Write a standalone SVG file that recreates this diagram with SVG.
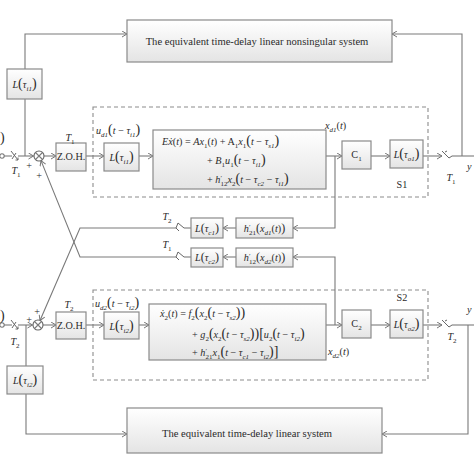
<svg xmlns="http://www.w3.org/2000/svg" width="474" height="474" viewBox="0 0 474 474">
<defs>
<linearGradient id="g" x1="0" y1="0" x2="0" y2="1"><stop offset="0" stop-color="#ffffff"/><stop offset="1" stop-color="#e4e4e4"/></linearGradient>
<marker id="a" markerWidth="7" markerHeight="7" refX="6" refY="3.5" orient="auto" markerUnits="userSpaceOnUse"><path d="M1,0.5 L6,3.5 L1,6.5" fill="none" stroke="#777" stroke-width="1"/></marker>
</defs>
<style>
.b{fill:url(#g);stroke:#8a8a8a;stroke-width:1.2}
.c{fill:none;stroke:#7a7a7a;stroke-width:1.1}
.ca{fill:none;stroke:#7a7a7a;stroke-width:1.1;marker-end:url(#a)}
.d{fill:none;stroke:#8c8c8c;stroke-width:1.1;stroke-dasharray:4 3}
text{font-family:"Liberation Serif","Times New Roman",serif;fill:#2a2a2a;font-size:10.2px}
.big{font-size:10.6px}
.m{text-anchor:middle}
.i{font-style:italic}
.s{font-size:7px}
.p{font-size:14px}
.q{font-size:12px}
.sw{fill:none;stroke:#666;stroke-width:1}
</style>
<rect width="474" height="474" fill="#fff"/>

<g id="S1"><rect class="d" x="93" y="107" width="335" height="90"/><text class="m" x="402" y="188">S1</text></g>
<g id="S2"><rect class="d" x="93" y="290" width="335" height="90"/><text class="m" x="402" y="301">S2</text></g>

<g id="connectors">
<circle class="c" cx="2" cy="156" r="2.2"/>
<path class="c" d="M4,156 H12"/>
<path class="ca" d="M18,156 H33.5"/>
<path class="ca" d="M44,156 H56"/>
<path class="ca" d="M86,156 H104"/>
<path class="ca" d="M139,156 H153"/>
<path class="ca" d="M326,156 H342"/>
<path class="ca" d="M335,156 V228 H293"/>
<path class="ca" d="M371,156 H390"/>
<path class="ca" d="M423,156 H442"/>
<path class="c" d="M452,156 H474"/>
<path class="c" d="M25,156 V99"/>
<path class="ca" d="M25,69 V34 H127"/>
<path class="ca" d="M462,156 V34 H392"/>
<circle class="c" cx="2" cy="325" r="2.2"/>
<path class="c" d="M4,325 H12"/>
<path class="ca" d="M18,325 H32.5"/>
<path class="c" d="M26,325 V366"/>
<path class="ca" d="M43,325 H56"/>
<path class="ca" d="M86,325 H104"/>
<path class="ca" d="M139,325 H149"/>
<path class="ca" d="M326,325 H342"/>
<path class="ca" d="M335,325 V257 H293"/>
<path class="ca" d="M371,325 H390"/>
<path class="ca" d="M423,325 H442"/>
<path class="c" d="M452,325 H474"/>
<path class="ca" d="M468,325 V434 H382"/>
<path class="ca" d="M26,394 V434 H127"/>
<path class="ca" d="M236,228 H223"/>
<path class="c" d="M191,228 H184"/>
<path class="ca" d="M176,228 H80 L40,320.5"/>
<path class="ca" d="M236,257 H223"/>
<path class="c" d="M191,257 H184"/>
<path class="ca" d="M176,257 H80 L41,160.6"/>
<path class="sw" d="M11,151 L18,160 M12,159 L16,153 M15.5,160 L18,160 L18,157.5"/>
<path class="sw" d="M11,320 L18,329 M12,328 L16,322 M15.5,329 L18,329 L18,326.5"/>
<path class="sw" d="M442,151 L449,158 M449,158 L452,156 M445,152 L447,151"/>
<path class="sw" d="M442,320 L449,327 M449,327 L452,325 M445,321 L447,320"/>
<path class="sw" d="M184,228 L178,223 M178,223 L176,228 M179,231 L176,228"/>
<path class="sw" d="M184,257 L178,252 M178,252 L176,257 M179,260 L176,257"/>
</g>

<g id="top-system"><rect class="b" x="127" y="20" width="265" height="42"/><text class="m big" x="257" y="45">The equivalent time-delay linear nonsingular system</text></g>
<g id="bottom-system"><rect class="b" x="127" y="408" width="255" height="45"/><text class="m big" x="247" y="437">The equivalent time-delay linear system</text></g>

<g id="Li1"><rect class="b" x="7" y="69" width="35" height="30"/><text class="m" x="24.5" y="88"><tspan class="i">L</tspan><tspan class="p">(</tspan><tspan class="i">τ</tspan><tspan class="s i" dy="2.5">i1</tspan><tspan class="p" dy="-2.5">)</tspan></text></g>
<g id="Li2"><rect class="b" x="7" y="366" width="36" height="28"/><text class="m" x="25" y="384"><tspan class="i">L</tspan><tspan class="p">(</tspan><tspan class="i">τ</tspan><tspan class="s i" dy="2.5">i2</tspan><tspan class="p" dy="-2.5">)</tspan></text></g>

<g id="sum1"><circle cx="39" cy="156" r="5" fill="#fff" stroke="#666" stroke-width="1.1"/><path class="c" d="M35.5,152.5 L42.5,159.5 M42.5,152.5 L35.5,159.5"/><text class="m" x="29" y="169">+</text><text class="m" x="39" y="179">+</text></g>
<g id="sum2"><circle cx="38" cy="325" r="5" fill="#fff" stroke="#666" stroke-width="1.1"/><path class="c" d="M34.5,321.5 L41.5,328.5 M41.5,321.5 L34.5,328.5"/><text class="m" x="29" y="323">+</text><text class="m" x="37" y="315">+</text></g>

<g id="labels-left">
<text x="0" y="142" class="p">)</text>
<text x="0" y="320" class="p">)</text>
<text class="m" x="16" y="174"><tspan class="i">T</tspan><tspan class="s" dy="2.5">1</tspan></text>
<text class="m" x="15" y="345"><tspan class="i">T</tspan><tspan class="s" dy="2.5">2</tspan></text>
</g>

<g id="zoh1"><rect class="b" x="56" y="143" width="30" height="28"/><text class="m" x="71" y="160">Z.O.H.</text><text class="m" x="70" y="141"><tspan class="i">T</tspan><tspan class="s" dy="2.5">1</tspan></text></g>
<g id="zoh2"><rect class="b" x="56" y="312" width="30" height="27"/><text class="m" x="71" y="329">Z.O.H.</text><text class="m" x="69" y="308"><tspan class="i">T</tspan><tspan class="s" dy="2.5">2</tspan></text></g>

<g id="Lti1"><rect class="b" x="104" y="143" width="35" height="28"/><text class="m" x="121.5" y="161"><tspan class="i">L</tspan><tspan class="p">(</tspan><tspan class="i">τ</tspan><tspan class="s i" dy="2.5">i1</tspan><tspan class="p" dy="-2.5">)</tspan></text>
<text x="96" y="134"><tspan class="i">u</tspan><tspan class="s i" dy="2.5">d1</tspan><tspan class="p" dy="-2.5">(</tspan><tspan class="i">t</tspan> − <tspan class="i">τ</tspan><tspan class="s i" dy="2.5">i1</tspan><tspan class="p" dy="-2.5">)</tspan></text></g>
<g id="Lti2"><rect class="b" x="104" y="312" width="35" height="27"/><text class="m" x="121.5" y="330"><tspan class="i">L</tspan><tspan class="p">(</tspan><tspan class="i">τ</tspan><tspan class="s i" dy="2.5">i2</tspan><tspan class="p" dy="-2.5">)</tspan></text>
<text x="95" y="307"><tspan class="i">u</tspan><tspan class="s i" dy="2.5">d2</tspan><tspan class="p" dy="-2.5">(</tspan><tspan class="i">t</tspan> − <tspan class="i">τ</tspan><tspan class="s i" dy="2.5">i2</tspan><tspan class="p" dy="-2.5">)</tspan></text></g>

<g id="eq1"><rect class="b" x="153" y="130" width="173" height="59"/>
<text x="162" y="145"><tspan class="i">Eẋ</tspan>(<tspan class="i">t</tspan>) = <tspan class="i">Ax</tspan><tspan class="s" dy="2.5">1</tspan><tspan dy="-2.5">(</tspan><tspan class="i">t</tspan>) + A<tspan class="s" dy="2.5">1</tspan><tspan class="i" dy="-2.5">x</tspan><tspan class="s" dy="2.5">1</tspan><tspan class="p" dy="-2.5">(</tspan><tspan class="i">t</tspan> − <tspan class="i">τ</tspan><tspan class="s i" dy="2.5">s1</tspan><tspan class="p" dy="-2.5">)</tspan></text>
<text x="207" y="164">+ <tspan class="i">B</tspan><tspan class="s" dy="2.5">1</tspan><tspan class="i" dy="-2.5">u</tspan><tspan class="s" dy="2.5">1</tspan><tspan class="p" dy="-2.5">(</tspan><tspan class="i">t</tspan> − <tspan class="i">τ</tspan><tspan class="s i" dy="2.5">i1</tspan><tspan class="p" dy="-2.5">)</tspan></text>
<text x="207" y="183">+ <tspan class="i">h</tspan><tspan class="s" dy="-3.5">′</tspan><tspan class="s" dx="-1.5" dy="6">12</tspan><tspan class="i" dy="-2.5">x</tspan><tspan class="s" dy="2.5">2</tspan><tspan class="p" dy="-2.5">(</tspan><tspan class="i">t</tspan> − <tspan class="i">τ</tspan><tspan class="s i" dy="2.5">c2</tspan><tspan dy="-2.5"> − </tspan><tspan class="i">τ</tspan><tspan class="s i" dy="2.5">i1</tspan><tspan class="p" dy="-2.5">)</tspan></text>
<text x="325" y="129"><tspan class="i">x</tspan><tspan class="s i" dy="2.5">d1</tspan><tspan dy="-2.5">(</tspan><tspan class="i">t</tspan>)</text>
</g>

<g id="eq2"><rect class="b" x="149" y="304" width="177" height="56"/>
<text x="160" y="317"><tspan class="i">ẋ</tspan><tspan class="s" dy="2.5">2</tspan><tspan dy="-2.5">(</tspan><tspan class="i">t</tspan>) = <tspan class="i">f</tspan><tspan class="s" dy="2.5">2</tspan><tspan class="p" dy="-2.5">(</tspan><tspan class="i">x</tspan><tspan class="s" dy="2.5">2</tspan><tspan class="p" dy="-2.5">(</tspan><tspan class="i">t</tspan> − <tspan class="i">τ</tspan><tspan class="s i" dy="2.5">s2</tspan><tspan class="p" dy="-2.5">))</tspan></text>
<text x="192" y="338">+ <tspan class="i">g</tspan><tspan class="s" dy="2.5">2</tspan><tspan class="p" dy="-2.5">(</tspan><tspan class="i">x</tspan><tspan class="s" dy="2.5">2</tspan><tspan class="p" dy="-2.5">(</tspan><tspan class="i">t</tspan> − <tspan class="i">τ</tspan><tspan class="s i" dy="2.5">s2</tspan><tspan class="p" dy="-2.5">))[</tspan><tspan class="i">u</tspan><tspan class="s" dy="2.5">2</tspan><tspan class="p" dy="-2.5">(</tspan><tspan class="i">t</tspan> − <tspan class="i">τ</tspan><tspan class="s i" dy="2.5">i2</tspan><tspan class="p" dy="-2.5">)</tspan></text>
<text x="192" y="356">+ <tspan class="i">h</tspan><tspan class="s" dy="-3.5">′</tspan><tspan class="s" dx="-1.5" dy="6">21</tspan><tspan class="i" dy="-2.5">x</tspan><tspan class="s" dy="2.5">1</tspan><tspan class="p" dy="-2.5">(</tspan><tspan class="i">t</tspan> − <tspan class="i">τ</tspan><tspan class="s i" dy="2.5">c1</tspan><tspan dy="-2.5"> − </tspan><tspan class="i">τ</tspan><tspan class="s i" dy="2.5">i2</tspan><tspan class="p" dy="-2.5">)]</tspan></text>
<text x="328" y="355"><tspan class="i">x</tspan><tspan class="s i" dy="2.5">d2</tspan><tspan dy="-2.5">(</tspan><tspan class="i">t</tspan>)</text>
</g>

<g id="C1"><rect class="b" x="342" y="141" width="29" height="28"/><text class="m" x="356.5" y="158">C<tspan class="s" dy="2.5">1</tspan></text></g>
<g id="C2"><rect class="b" x="342" y="310" width="29" height="28"/><text class="m" x="356.5" y="327">C<tspan class="s" dy="2.5">2</tspan></text></g>

<g id="Lo1"><rect class="b" x="390" y="140" width="33" height="28"/><text class="m" x="406.5" y="158"><tspan class="i">L</tspan><tspan class="p">(</tspan><tspan class="i">τ</tspan><tspan class="s i" dy="2.5">o1</tspan><tspan class="p" dy="-2.5">)</tspan></text></g>
<g id="Lo2"><rect class="b" x="390" y="310" width="33" height="28"/><text class="m" x="406.5" y="328"><tspan class="i">L</tspan><tspan class="p">(</tspan><tspan class="i">τ</tspan><tspan class="s i" dy="2.5">o2</tspan><tspan class="p" dy="-2.5">)</tspan></text></g>

<g id="labels-right">
<text class="m" x="451" y="181"><tspan class="i">T</tspan><tspan class="s" dy="2.5">1</tspan></text>
<text x="467" y="170" class="i">y</text>
<text class="m" x="452" y="340"><tspan class="i">T</tspan><tspan class="s" dy="2.5">2</tspan></text>
<text x="467" y="313" class="i">y</text>
</g>

<g id="h21"><rect class="b" x="236" y="218" width="57" height="20"/><text class="m" x="264.5" y="232"><tspan class="i">h</tspan><tspan class="s" dy="-3.5">′</tspan><tspan class="s" dx="-1.5" dy="6">21</tspan><tspan class="q" dy="-2.5">(</tspan><tspan class="i">x</tspan><tspan class="s i" dy="2.5">d1</tspan><tspan dy="-2.5">(</tspan><tspan class="i">t</tspan>)<tspan class="q">)</tspan></text></g>
<g id="h12"><rect class="b" x="236" y="248" width="57" height="19"/><text class="m" x="264.5" y="261"><tspan class="i">h</tspan><tspan class="s" dy="-3.5">′</tspan><tspan class="s" dx="-1.5" dy="6">12</tspan><tspan class="q" dy="-2.5">(</tspan><tspan class="i">x</tspan><tspan class="s i" dy="2.5">d2</tspan><tspan dy="-2.5">(</tspan><tspan class="i">t</tspan>)<tspan class="q">)</tspan></text></g>
<g id="Lc1"><rect class="b" x="191" y="218" width="32" height="20"/><text class="m" x="207" y="232"><tspan class="i">L</tspan><tspan class="q">(</tspan><tspan class="i">τ</tspan><tspan class="s i" dy="2.5">c1</tspan><tspan class="q" dy="-2.5">)</tspan></text></g>
<g id="Lc2"><rect class="b" x="191" y="248" width="32" height="19"/><text class="m" x="207" y="261"><tspan class="i">L</tspan><tspan class="q">(</tspan><tspan class="i">τ</tspan><tspan class="s i" dy="2.5">c2</tspan><tspan class="q" dy="-2.5">)</tspan></text></g>
<g id="labels-cross">
<text class="m" x="167" y="220"><tspan class="i">T</tspan><tspan class="s" dy="2.5">2</tspan></text>
<text class="m" x="167" y="248"><tspan class="i">T</tspan><tspan class="s" dy="2.5">1</tspan></text>
</g>
</svg>
